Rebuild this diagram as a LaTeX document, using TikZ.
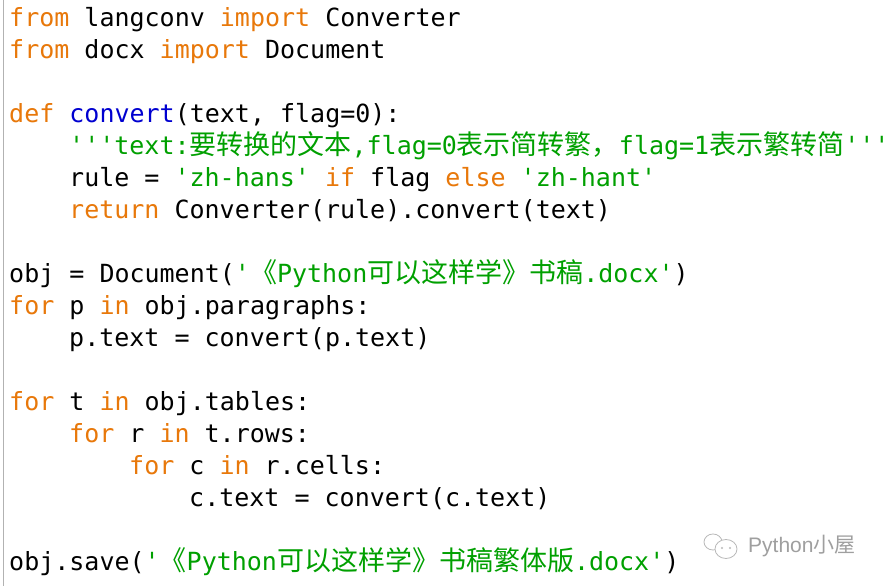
\documentclass[tikz,border=0pt]{standalone}
\usepackage{fontspec}
\newfontfamily\mono{DejaVu Sans Mono}
\newfontfamily\cjk{Noto Sans CJK SC}
\newfontfamily\wmfont{Liberation Sans}
\definecolor{kwc}{HTML}{E8780A}
\definecolor{fnc}{HTML}{0000D0}
\definecolor{stc}{HTML}{00A000}
\newcommand\kw[1]{\textcolor{kwc}{#1}}
\newcommand\fnm[1]{\textcolor{fnc}{#1}}
\newcommand\st[1]{\textcolor{stc}{#1}}
\newcommand\zh[1]{{\fontsize{27}{25}\cjk #1}}
\begin{document}
\begin{tikzpicture}[x=1pt,y=1pt,
  code/.style={anchor=base west,inner sep=0pt,font=\fontsize{25}{25}\mono}]
\useasboundingbox[fill=white] (0,0) rectangle (892,586);
\draw[gray!60,line width=1pt] (3,586) -- (3,0);
\newcommand\codeline[4]{\node[code] (#1) at ({9+15*#2},{586-27-32*#3}) {#4};}
\codeline{l1}{0}{0}{\kw{from} langconv \kw{import} Converter}
\codeline{l2}{0}{1}{\kw{from} docx \kw{import} Document}
\codeline{l3}{0}{3}{\kw{def} \fnm{convert}(text, flag=0):}
\codeline{l4}{4}{4}{\st{'''text:\zh{要转换的文本},flag=0\zh{表示简转繁，}flag=1\zh{表示繁转简}'''}}
\codeline{l5}{4}{5}{rule = \st{'zh-hans'} \kw{if} flag \kw{else} \st{'zh-hant'}}
\codeline{l6}{4}{6}{\kw{return} Converter(rule).convert(text)}
\codeline{l7}{0}{8}{obj = Document(\st{'\zh{《}Python\zh{可以这样学》书稿}.docx'})}
\codeline{l8}{0}{9}{\kw{for} p \kw{in} obj.paragraphs:}
\codeline{l9}{4}{10}{p.text = convert(p.text)}
\codeline{l10}{0}{12}{\kw{for} t \kw{in} obj.tables:}
\codeline{l11}{4}{13}{\kw{for} r \kw{in} t.rows:}
\codeline{l12}{8}{14}{\kw{for} c \kw{in} r.cells:}
\codeline{l13}{12}{15}{c.text = convert(c.text)}
\codeline{l14}{0}{17}{obj.save(\st{'\zh{《}Python\zh{可以这样学》书稿繁体版}.docx'})}
% watermark
\begin{scope}[draw=gray!55,line width=0.8pt,fill=white]
\draw (713,44) ellipse (9 and 8);
\filldraw (726,37) ellipse (11 and 9.5);
\fill[gray!55] (722,38) circle (1.2) (730,38) circle (1.2);
\end{scope}
\node[anchor=base west,inner sep=0pt,text=gray!75,font=\fontsize{21}{21}\wmfont] (wmt) at (748,33) {Python\zh{\fontsize{21}{21}\selectfont 小屋}};
\end{tikzpicture}
\end{document}
